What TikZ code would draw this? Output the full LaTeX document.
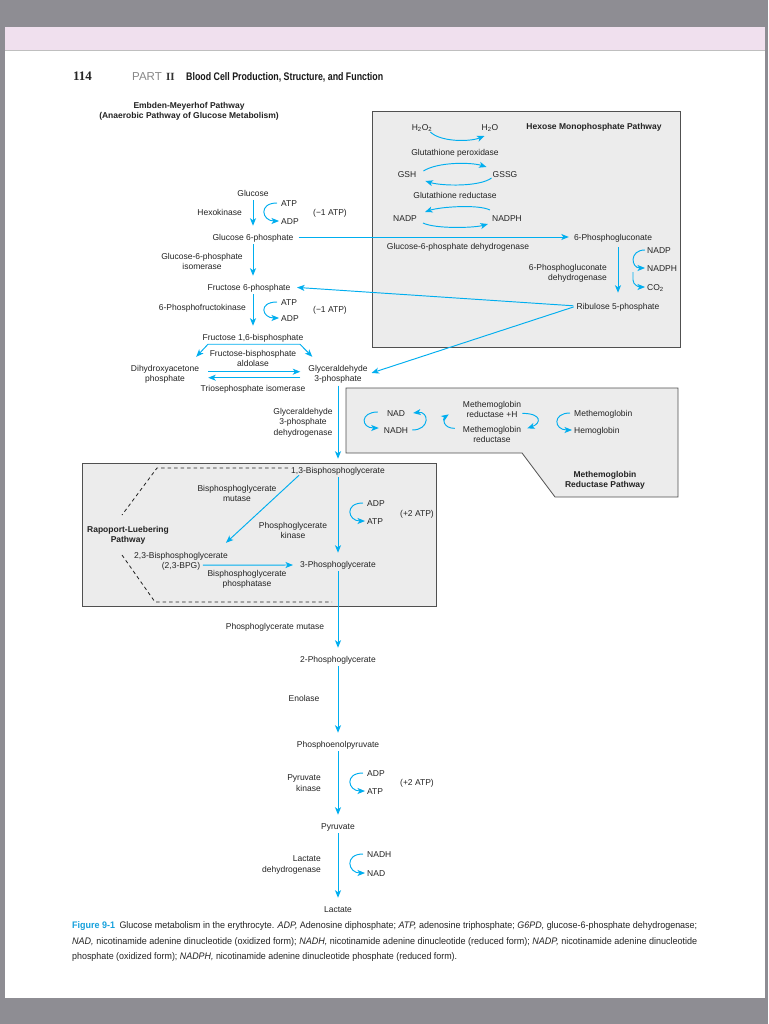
\documentclass[tikz,border=0pt]{standalone}
\usepackage{fontspec}
\usepackage{graphicx}
\setmainfont{Liberation Sans}
\newfontfamily\serf{Liberation Serif}
\usetikzlibrary{arrows.meta,calc}
\definecolor{cy}{RGB}{0,174,239}
\definecolor{txt}{RGB}{35,35,35}
\definecolor{boxfill}{RGB}{236,236,236}
\definecolor{boxline}{RGB}{80,80,80}
\definecolor{pagebg}{RGB}{142,141,147}
\definecolor{band}{RGB}{240,224,238}
\definecolor{capblue}{RGB}{20,160,220}
\definecolor{partgray}{RGB}{135,135,135}
\newcommand\lf{\fontsize{8.5}{10.5}\selectfont}
\newcommand\capf{\fontsize{9.5}{11}\selectfont}
\tikzset{cyt/.tip={Stealth[length=7.5pt,width=6pt,inset=2pt]}}
\begin{document}
\begin{tikzpicture}[x=1pt,y=-1pt,
 lbl/.style={font=\lf,text=txt,inner sep=0pt,text height=6.1pt,text depth=0pt},
 bl/.style={lbl,font=\lf\bfseries},
 ml/.style={font=\lf,text=txt,inner sep=0pt,align=center,anchor=north},
 mlr/.style={ml,align=right,anchor=north east},
 mlb/.style={ml,font=\lf\bfseries},
 arr/.style={draw=cy,line width=0.95pt,-cyt},
 chain/.style={arr,shorten <=4pt,shorten >=8pt},
 gbox/.style={fill=boxfill,draw=boxline,line width=0.8pt},
 dsh/.style={draw=txt,line width=0.8pt,dash pattern=on 3.5pt off 3pt}]
\useasboundingbox (0,0) rectangle (768,1024);
\fill[pagebg] (0,0) rectangle (768,1024);
\fill[white] (5,27) rectangle (765,998);
\fill[band] (5,27) rectangle (765,50);
\draw[black!25,line width=0.5pt] (5,50) -- (765,50);

% header
\node[anchor=base west,inner sep=0pt,font=\serf\bfseries\fontsize{13}{15}\selectfont,text=black!85] (pgno) at (73,80.5) {114};
\node[anchor=base west,inner sep=0pt,font=\fontsize{11.5}{13}\selectfont,text=partgray] (part) at (132,80.5) {PART};
\node[anchor=base west,inner sep=0pt,font=\serf\bfseries\fontsize{11}{13}\selectfont,text=black!80] (partno) at (166,80.5) {II};
\node[anchor=base west,inner sep=0pt,text=black!90] (chap) at (186,80.5) {\resizebox{197pt}{\height}{\fontsize{11}{13}\selectfont\bfseries Blood Cell Production, Structure, and Function}};

% boxes
\draw[gbox] (372,111) rectangle (680,347);
\draw[gbox] (346,388) -- (678,388) -- (678,497) -- (555,497) -- (522,453) -- (346,453) -- cycle;
\draw[gbox] (82,463) rectangle (436,606);

% titles
\node[mlb] (emb) at (189,101.8) {Embden-Meyerhof Pathway\\(Anaerobic Pathway of Glucose Metabolism)};
\node[bl] (hmpt) at (594,126) {Hexose Monophosphate Pathway};
\node[mlb] (mrt) at (605,470.8) {Methemoglobin\\Reductase Pathway};
\node[mlb] (rlt) at (128,525.8) {Rapoport-Luebering\\Pathway};

% upper chain
\node[lbl] (glc) at (253,193) {Glucose};
\node[lbl,anchor=east] (hk) at (242,212) {Hexokinase};
\node[lbl,anchor=west] (atp1) at (281,203) {ATP};
\node[lbl,anchor=west] (adp1) at (281,221) {ADP};
\node[lbl] (m1a) at (330,212) {(−1 ATP)};
\node[lbl] (g6p) at (253,237) {Glucose 6-phosphate};
\node[ml] (gpi) at (202,252.8) {Glucose-6-phosphate\\isomerase};
\node[lbl] (f6p) at (249,287) {Fructose 6-phosphate};
\node[lbl,anchor=east] (pfk) at (246,307) {6-Phosphofructokinase};
\node[lbl,anchor=west] (atp2) at (281,302) {ATP};
\node[lbl,anchor=west] (adp2) at (281,318) {ADP};
\node[lbl] (m1b) at (330,309) {(−1 ATP)};
\node[lbl] (f16bp) at (253,337) {Fructose 1,6-bisphosphate};
\node[ml] (ald) at (253,349.8) {Fructose-bisphosphate\\aldolase};
\node[ml] (dhap) at (165,364.8) {Dihydroxyacetone\\phosphate};
\node[ml] (ga3p) at (338,364.8) {Glyceraldehyde\\3-phosphate};
\node[lbl] (tpi) at (253,388) {Triosephosphate isomerase};
\node[ml] (gapdh) at (303,407.8) {Glyceraldehyde\\3-phosphate\\dehydrogenase};

% HMP
\node[lbl] (h2o2) at (422,127) {H\textsubscript{2}O\textsubscript{2}};
\node[lbl] (h2o) at (490,127) {H\textsubscript{2}O};
\node[lbl] (gpx) at (455,152) {Glutathione peroxidase};
\node[lbl] (gsh) at (407,174) {GSH};
\node[lbl] (gssg) at (505,174) {GSSG};
\node[lbl] (gr) at (455,195) {Glutathione reductase};
\node[lbl] (nadp) at (405,218) {NADP};
\node[lbl] (nadph) at (507,218) {NADPH};
\node[lbl] (pgl) at (613,237) {6-Phosphogluconate};
\node[lbl] (g6pd) at (458,246) {Glucose-6-phosphate dehydrogenase};
\node[mlr] (pgd) at (607,263.8) {6-Phosphogluconate\\dehydrogenase};
\node[lbl,anchor=west] (nadp2) at (647,250) {NADP};
\node[lbl,anchor=west] (nadph2) at (647,268) {NADPH};
\node[lbl,anchor=west] (co2) at (647,287) {CO\textsubscript{2}};
\node[lbl] (ru5p) at (618,306) {Ribulose 5-phosphate};

% methemoglobin
\node[lbl] (nad) at (396,413) {NAD};
\node[lbl] (nadh) at (396,430) {NADH};
\node[ml] (mr1) at (492,400.8) {Methemoglobin\\reductase +H};
\node[ml] (mr2) at (492,425.8) {Methemoglobin\\reductase};
\node[lbl,anchor=west] (met) at (574,413) {Methemoglobin};
\node[lbl,anchor=west] (hb) at (574,430) {Hemoglobin};

% Rapoport
\node[lbl] (bpg13) at (338,470) {1,3-Bisphosphoglycerate};
\node[ml] (bpgm) at (237,484.8) {Bisphosphoglycerate\\mutase};
\node[ml] (pgk) at (293,521.8) {Phosphoglycerate\\kinase};
\node[lbl,anchor=west] (adp3) at (367,503) {ADP};
\node[lbl,anchor=west] (atp3) at (367,521) {ATP};
\node[lbl] (p2a) at (417,513) {(+2 ATP)};
\node[ml] (bpg23) at (181,551.8) {2,3-Bisphosphoglycerate\\(2,3-BPG)};
\node[ml] (bpgp) at (247,569.8) {Bisphosphoglycerate\\phosphatase};
\node[lbl] (pg3) at (338,564) {3-Phosphoglycerate};

% lower chain
\node[lbl] (pgm) at (275,626) {Phosphoglycerate mutase};
\node[lbl] (pg2) at (338,659) {2-Phosphoglycerate};
\node[lbl] (eno) at (304,698) {Enolase};
\node[lbl] (pep) at (338,744) {Phosphoenolpyruvate};
\node[mlr] (pk) at (321,774.8) {Pyruvate\\kinase};
\node[lbl,anchor=west] (adp4) at (367,773) {ADP};
\node[lbl,anchor=west] (atp4) at (367,791) {ATP};
\node[lbl] (p2b) at (417,782) {(+2 ATP)};
\node[lbl] (pyr) at (338,826) {Pyruvate};
\node[mlr] (ldh) at (321,855.8) {Lactate\\dehydrogenase};
\node[lbl,anchor=west] (nadh5) at (367,854) {NADH};
\node[lbl,anchor=west] (nad5) at (367,873) {NAD};
\node[lbl] (lac) at (338,909) {Lactate};

% main chain arrows
\draw[chain] (glc.south) -- (g6p.north);
\draw[chain] (g6p.south) -- (g6p.south |- f6p.north);
\draw[chain] (f16bp.north |- f6p.south) -- (f16bp.north);
\draw[arr,cyt-cyt] ([shift={(-3,-8)}]dhap.north east) -- ([shift={(-45,4)}]f16bp.south) -- ([shift={(47,4)}]f16bp.south) -- ([shift={(4,-8)}]ga3p.north west);
\draw[arr] ([shift={(9,-2.5)}]dhap.east) -- ([shift={(-8,-2.5)}]ga3p.west);
\draw[arr] ([shift={(-8,3.5)}]ga3p.west) -- ([shift={(9,3.5)}]dhap.east);
\draw[arr,shorten <=2pt,shorten >=8pt] (ga3p.south) -- (bpg13.north);
\draw[chain] (bpg13.south) -- (pg3.north);
\draw[chain] (pg3.south) -- (pg2.north);
\draw[chain] (pg2.south) -- (pep.north);
\draw[chain] (pep.south) -- (pyr.north);
\draw[chain] (pyr.south) -- (lac.north);

% cofactor curves
\draw[arr] ([xshift=-4pt]atp1.west) .. controls +(-19,0) and +(-17,0) .. ([xshift=-2pt]adp1.west);
\draw[arr] ([xshift=-4pt]atp2.west) .. controls +(-19,0) and +(-17,0) .. ([xshift=-2pt]adp2.west);
\draw[arr] ([xshift=-4pt]adp3.west) .. controls +(-19,0) and +(-17,0) .. ([xshift=-2pt]atp3.west);
\draw[arr] ([xshift=-4pt]adp4.west) .. controls +(-19,0) and +(-17,0) .. ([xshift=-2pt]atp4.west);
\draw[arr] ([xshift=-4pt]nadh5.west) .. controls +(-19,0) and +(-17,0) .. ([xshift=-2pt]nad5.west);

% HMP arrows
\draw[arr,shorten <=5pt,shorten >=5pt] (g6p.east) -- (pgl.west);
\draw[arr,shorten <=7pt,shorten >=10pt] (ru5p.north |- pgl.south) -- (ru5p.north);
\draw[arr,shorten <=3pt,shorten >=6.5pt] (ru5p.west) -- (f6p.east);
\draw[arr,shorten <=3pt,shorten >=4pt] (ru5p.west) -- (ga3p.east);
\draw[arr] ([shift={(-2,5)}]h2o2.east) .. controls +(10,10) and +(-15,6) .. ([shift={(3,9)}]h2o.west);
\draw[arr] ([shift={(7,-3)}]gsh.east) .. controls +(14,-9) and +(-16,-5) .. ([shift={(-6,-7)}]gssg.west);
\draw[arr] ([shift={(-1,4)}]gssg.west) .. controls +(-12,9) and +(16,5) .. ([shift={(9,7)}]gsh.east);
\draw[arr] ([shift={(-2,-8)}]nadph.west) .. controls +(-12,-6) and +(14,-5) .. ([shift={(8,-6)}]nadp.east);
\draw[arr] ([shift={(6,5)}]nadp.east) .. controls +(12,6) and +(-14,4) .. ([shift={(-4,6)}]nadph.west);
\draw[arr] ([xshift=-2pt]nadp2.west) .. controls +(-16,0) and +(-14,0) .. ([xshift=-2pt]nadph2.west);
\draw[arr] ([shift={(-14,4)}]nadph2.west) -- +(0,8) .. controls +(0,5) and +(-6,0) .. ([xshift=-2pt]co2.west);

% methemoglobin arrows
\draw[arr] ([shift={(-9,-1)}]nad.west) .. controls +(-18,0) and +(-18,0) .. ([shift={(-5,-2)}]nadh.west);
\draw[arr] ([xshift=4pt]nadh.east) .. controls +(18,0) and +(16,-2) .. ([xshift=8pt]nad.east);
\draw[arr] ([shift={(-8,-6)}]mr2.west) .. controls +(-12,0) and +(-6,4) .. ([shift={(-14,5)}]mr1.west);
\draw[arr] ([shift={(1,4)}]mr1.east) .. controls +(20,0) and +(14,-5) .. ([shift={(6,-6)}]mr2.east);
\draw[arr] ([xshift=-4pt]met.west) .. controls +(-18,0) and +(-18,0) .. ([xshift=-2pt]hb.west);

% Rapoport arrows
\draw[arr] ([shift={(8,2)}]bpg13.south west) -- ([shift={(-2,-9)}]bpg23.north east);
\draw[arr] ([shift={(-25,4)}]bpg23.east) -- ([shift={(-7,1)}]pg3.west);
\draw[dsh] (288,468) -- (157,468) -- (122,515);
\draw[dsh] (122,555) -- (155,602) -- (332,602);

% caption
\node[anchor=base west,inner sep=0pt,text=txt] (cap1) at (72,928.5) {\resizebox{625pt}{\height}{\capf\textcolor{capblue}{\bfseries Figure 9-1}\enspace Glucose metabolism in the erythrocyte. \textit{ADP,} Adenosine diphosphate; \textit{ATP,} adenosine triphosphate; \textit{G6PD,} glucose-6-phosphate dehydrogenase;}};
\node[anchor=base west,inner sep=0pt,text=txt] (cap2) at (72,944) {\resizebox{625pt}{\height}{\capf\textit{NAD,} nicotinamide adenine dinucleotide (oxidized form); \textit{NADH,} nicotinamide adenine dinucleotide (reduced form); \textit{NADP,} nicotinamide adenine dinucleotide}};
\node[anchor=base west,inner sep=0pt,text=txt] (cap3) at (72,959.5) {\resizebox{385pt}{\height}{\capf phosphate (oxidized form); \textit{NADPH,} nicotinamide adenine dinucleotide phosphate (reduced form).}};
\end{tikzpicture}
\end{document}
